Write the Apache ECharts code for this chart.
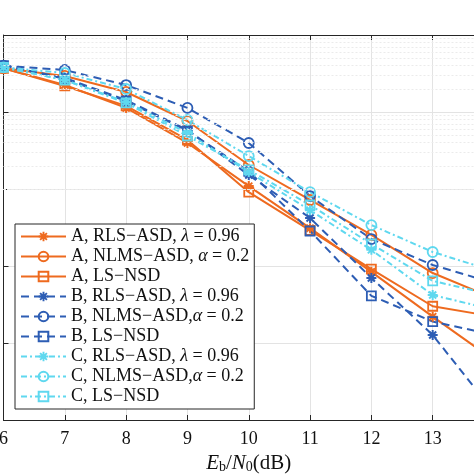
<!DOCTYPE html>
<html>
<head>
<meta charset="utf-8">
<script src="https://cdn.jsdelivr.net/npm/echarts@6.0.0/dist/echarts.min.js"></script>
<style>
  html, body { margin: 0; padding: 0; overflow: hidden; background: #fff; }
  #wrap { position: relative; width: 474px; height: 474px; overflow: hidden; }
  /* the figure is cropped on the left and right, so the chart is wider than the window */
  #chart { position: absolute; left: -40px; top: 0; width: 600px; height: 474px; }
</style>
</head>
<body>
<div id="wrap"><div id="chart"></div></div>
<script>
// Eb/N0 in dB
const snr = [6, 7, 8, 9, 10, 11, 12, 13, 14];

// scenario A
const aRls  = [0.37, 0.224, 0.113, 0.0396, 0.0109, 0.0031, 0.00084, 0.00022, 0.00006];
const aNlms = [0.37, 0.294, 0.182, 0.0764, 0.0205, 0.0072, 0.00253, 0.00081, 0.00038];
const aLs   = [0.37, 0.218, 0.12, 0.0433, 0.0091, 0.0029, 0.00091, 0.0003, 0.00022];
// scenario B
const bRls  = [0.40, 0.277, 0.143, 0.0584, 0.0152, 0.0042, 0.0007, 0.000127, 0.0000127];
const bNlms = [0.40, 0.351, 0.224, 0.113, 0.0396, 0.0081, 0.00224, 0.00103, 0.0006];
const bLs   = [0.40, 0.27, 0.139, 0.057, 0.017, 0.00285, 0.00041, 0.00019, 0.000127];
// scenario C
const cRls  = [0.38, 0.26, 0.135, 0.0533, 0.0166, 0.0053, 0.00162, 0.00042, 0.00027];
const cNlms = [0.38, 0.321, 0.199, 0.0787, 0.0268, 0.0091, 0.0034, 0.00152, 0.00086];
const cLs   = [0.38, 0.26, 0.131, 0.0488, 0.0177, 0.0062, 0.00193, 0.00064, 0.00042];

const names = [
  "A, RLS\u2212ASD, \u03bb = 0.96",
  "A, NLMS\u2212ASD, \u03b1 = 0.2",
  "A, LS\u2212NSD",
  "B, RLS\u2212ASD, \u03bb = 0.96",
  "B, NLMS\u2212ASD,\u03b1 = 0.2",
  "B, LS\u2212NSD",
  "C, RLS\u2212ASD, \u03bb = 0.96",
  "C, NLMS\u2212ASD,\u03b1 = 0.2",
  "C, LS\u2212NSD"
];

const ORANGE = "#ee6a1f";
const BLUE = "#2d5db4";
const CYAN = "#5fd8ef";
const FONT = "Liberation Serif";

// asterisk marker (+ and x)
const STAR =
  "path://M-6,-1.2L6,-1.2L6,1.2L-6,1.2Z" +
  "M-1.2,-6L1.2,-6L1.2,6L-1.2,6Z" +
  "M-5.09,-3.39L-3.39,-5.09L5.09,3.39L3.39,5.09Z" +
  "M3.39,-5.09L5.09,-3.39L-3.39,5.09L-5.09,3.39Z";

function makeSeries(name, values, color, lineType, symbol, filled) {
  return {
    name: name,
    type: "line",
    data: snr.map((x, i) => [x, values[i]]),
    symbol: symbol,
    symbolSize: symbol === "rect" ? 9 : 10,
    lineStyle: { color: color, width: 2, type: lineType },
    itemStyle: {
      color: filled ? color : "rgba(255,255,255,0)",
      borderColor: color,
      borderWidth: filled ? 0 : 1.8
    },
    emphasis: { disabled: true },
    animation: false
  };
}

const DASH = [8, 5];
const DASHDOT = [6, 3, 2, 3];

// dotted minor grid lines of the log axis (2..9 in each decade)
const minorLines = [];
for (let k = -5; k < 0; k++) {
  for (let m = 2; m <= 9; m++) {
    minorLines.push({ yAxis: m * Math.pow(10, k) });
  }
}

const chart = echarts.init(document.getElementById("chart"), null, { renderer: "canvas" });

chart.setOption({
  animation: false,
  backgroundColor: "#fff",
  grid: { left: 43.5, right: 66, top: 35, bottom: 54, containLabel: false, outerBoundsMode: "none" },
  legend: {
    data: names,
    orient: "vertical",
    left: 55,
    top: 224,
    padding: [3.5, 5, 3.5, 5],
    itemWidth: 45,
    itemHeight: 12,
    itemGap: 2,
    backgroundColor: "#fff",
    borderColor: "#262626",
    borderWidth: 1,
    borderRadius: 0,
    selectedMode: false,
    formatter: n => n.replace("\u03bb", "{i|\u03bb}").replace("\u03b1", "{i|\u03b1}"),
    textStyle: {
      fontFamily: FONT,
      fontSize: 18,
      lineHeight: 17,
      color: "#111",
      rich: { i: { fontFamily: FONT, fontSize: 18, fontStyle: "italic", color: "#111" } }
    }
  },
  xAxis: [
    {
      type: "value",
      min: 6,
      max: 14,
      interval: 1,
      name: "{i|E}{s|b}{n|/}{i|N}{s|0}{n|(dB)}",
      nameLocation: "middle",
      nameGap: 31,
      nameTextStyle: {
        rich: {
          i: { fontFamily: FONT, fontSize: 21, fontStyle: "italic", color: "#111" },
          s: { fontFamily: FONT, fontSize: 14, color: "#111", padding: [8, 0, 0, 0] },
          n: { fontFamily: FONT, fontSize: 21, color: "#111" }
        }
      },
      axisLine: { lineStyle: { color: "#262626", width: 1 } },
      axisTick: { inside: true, length: 5, lineStyle: { color: "#262626" } },
      axisLabel: { fontFamily: FONT, fontSize: 18, color: "#111", margin: 10 },
      splitLine: { show: true, lineStyle: { color: "#e3e3e3", width: 1 } }
    },
    {
      type: "value",
      position: "top",
      min: 6,
      max: 14,
      interval: 1,
      axisLine: { lineStyle: { color: "#262626", width: 1 } },
      axisTick: { inside: true, length: 5, lineStyle: { color: "#262626" } },
      axisLabel: { show: false },
      splitLine: { show: false }
    }
  ],
  yAxis: [
    {
      type: "log",
      logBase: 10,
      min: 1e-5,
      max: 1,
      axisLine: { show: true, lineStyle: { color: "#262626", width: 1 } },
      axisTick: { inside: true, length: 5, lineStyle: { color: "#262626" } },
      // the tick labels lie outside the cropped picture
      axisLabel: { show: false },
      splitLine: { show: true, lineStyle: { color: "#e3e3e3", width: 1 } }
    },
    {
      type: "log",
      logBase: 10,
      min: 1e-5,
      max: 1,
      position: "right",
      axisLine: { show: true, lineStyle: { color: "#262626", width: 1 } },
      axisTick: { inside: true, length: 5 },
      axisLabel: { show: false },
      splitLine: { show: false }
    }
  ],
  series: [
    {
      name: "minor-grid",
      type: "line",
      data: [],
      silent: true,
      markLine: {
        silent: true,
        symbol: "none",
        label: { show: false },
        animation: false,
        lineStyle: { color: "#ebebeb", width: 1, type: [2, 2] },
        data: minorLines
      }
    },
    makeSeries(names[0], aRls, ORANGE, "solid", STAR, true),
    makeSeries(names[1], aNlms, ORANGE, "solid", "circle", false),
    makeSeries(names[2], aLs, ORANGE, "solid", "rect", false),
    makeSeries(names[3], bRls, BLUE, DASH, STAR, true),
    makeSeries(names[4], bNlms, BLUE, DASH, "circle", false),
    makeSeries(names[5], bLs, BLUE, DASH, "rect", false),
    makeSeries(names[6], cRls, CYAN, DASHDOT, STAR, true),
    makeSeries(names[7], cNlms, CYAN, DASHDOT, "circle", false),
    makeSeries(names[8], cLs, CYAN, DASHDOT, "rect", false)
  ]
});
</script>
</body>
</html>
